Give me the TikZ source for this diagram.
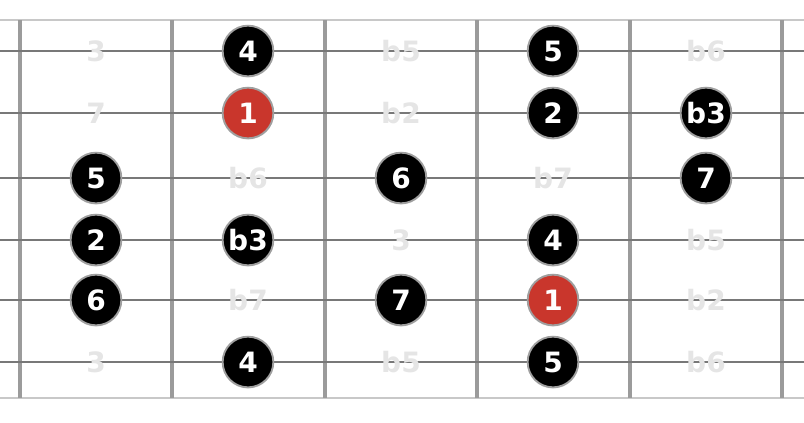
\documentclass[tikz,border=0pt]{standalone}
\usepackage{fontspec}
\setmainfont{DejaVu Sans}
\usetikzlibrary{shadows}
\definecolor{rootred}{RGB}{201,54,44}
\definecolor{ghostgray}{RGB}{229,229,229}
\definecolor{stringgray}{RGB}{120,120,120}
\definecolor{fretgray}{RGB}{155,155,155}
\definecolor{edgegray}{RGB}{200,200,200}
\tikzset{
  note/.style={circle,fill=black,draw=gray!75,line width=1.4pt,minimum size=38pt,inner sep=0pt,
    text=white,font=\bfseries\fontsize{21}{21}\selectfont,
    drop shadow={shadow xshift=0pt,shadow yshift=-1pt,opacity=.18}},
  rootnote/.style={note,fill=rootred},
  ghost/.style={text=ghostgray,font=\bfseries\fontsize{21}{21}\selectfont},
}
\begin{document}
\begin{tikzpicture}[x=0.75pt,y=-0.75pt]
\useasboundingbox (0,0) rectangle (804,422);
% board edges
\draw[edgegray,line width=1.5pt] (0,20) -- (804,20);
\draw[edgegray,line width=1.5pt] (0,398) -- (804,398);
% frets
\foreach \x in {20,172,325,477,630,782}
  \draw[fretgray,line width=3.5pt] (\x,20) -- (\x,398);
% strings
\foreach \y in {51,113,178,240,300,362}
  \draw[stringgray,line width=1.5pt] (0,\y) -- (804,\y);
% string 1
\node[ghost] (g13) at (96,51) {3};
\node[note] (n14) at (248,51) {4};
\node[ghost] (g1b5) at (401,51) {b5};
\node[note] (n15) at (553,51) {5};
\node[ghost] (g1b6) at (706,51) {b6};
% string 2
\node[ghost] (g27) at (96,113) {7};
\node[rootnote] (n21) at (248,113) {1};
\node[ghost] (g2b2) at (401,113) {b2};
\node[note] (n22) at (553,113) {2};
\node[note] (n2b3) at (706,113) {b3};
% string 3
\node[note] (n35) at (96,178) {5};
\node[ghost] (g3b6) at (248,178) {b6};
\node[note] (n36) at (401,178) {6};
\node[ghost] (g3b7) at (553,178) {b7};
\node[note] (n37) at (706,178) {7};
% string 4
\node[note] (n42) at (96,240) {2};
\node[note] (n4b3) at (248,240) {b3};
\node[ghost] (g43) at (401,240) {3};
\node[note] (n44) at (553,240) {4};
\node[ghost] (g4b5) at (706,240) {b5};
% string 5
\node[note] (n56) at (96,300) {6};
\node[ghost] (g5b7) at (248,300) {b7};
\node[note] (n57) at (401,300) {7};
\node[rootnote] (n51) at (553,300) {1};
\node[ghost] (g5b2) at (706,300) {b2};
% string 6
\node[ghost] (g63) at (96,362) {3};
\node[note] (n64) at (248,362) {4};
\node[ghost] (g6b5) at (401,362) {b5};
\node[note] (n65) at (553,362) {5};
\node[ghost] (g6b6) at (706,362) {b6};
\end{tikzpicture}
\end{document}
